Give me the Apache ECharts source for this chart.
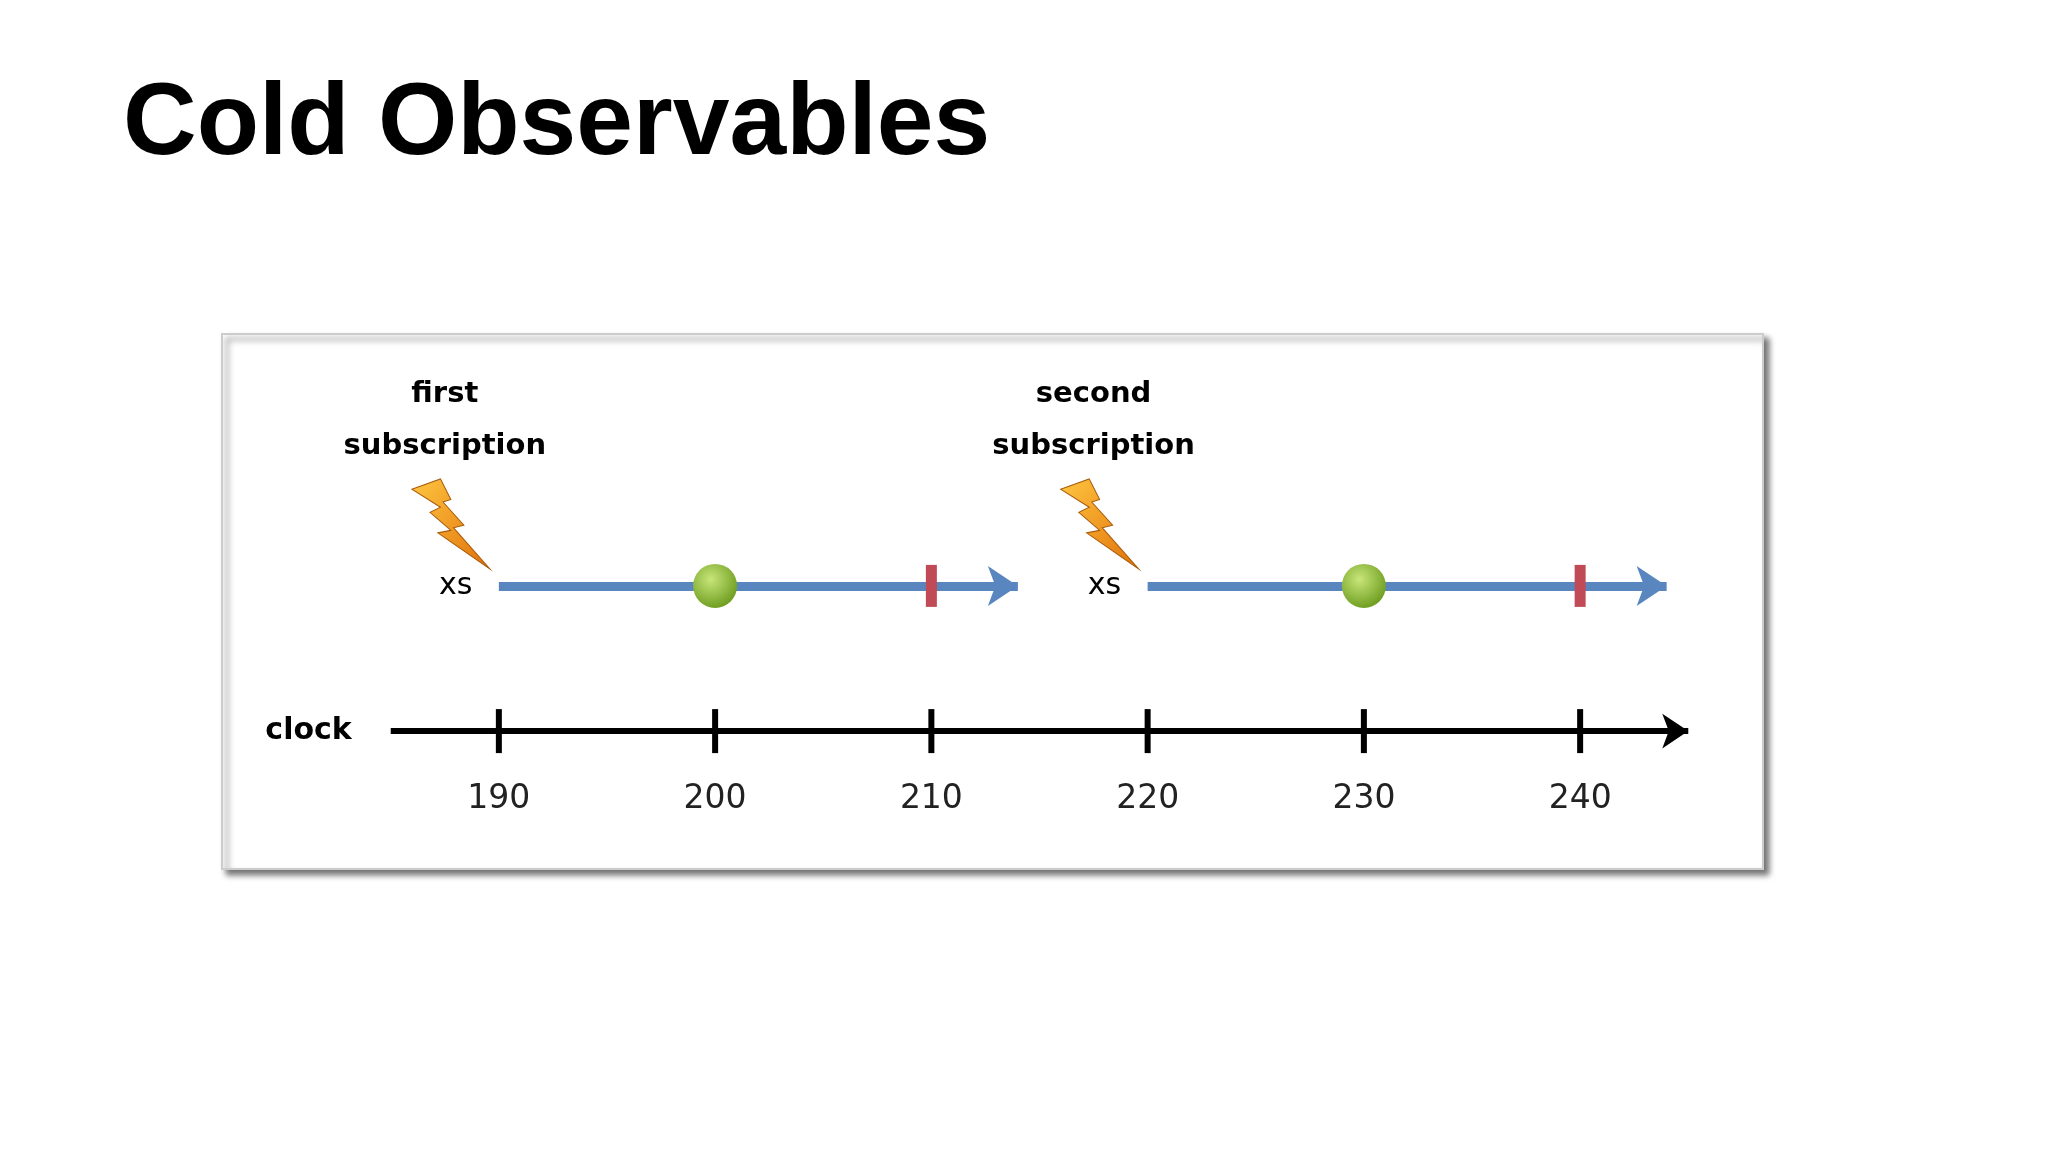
<!DOCTYPE html>
<html><head><meta charset="utf-8">
<script src="https://cdn.jsdelivr.net/npm/echarts@6/dist/echarts.min.js"></script>
<style>html,body{margin:0;background:#fff}#c{width:2048px;height:1152px}</style>
</head><body><div id="c"></div>
<script>
const clockTicks = [190, 200, 210, 220, 230, 240];
const subscriptions = [190, 220];
const subscriptionLabels = ['first\nsubscription', 'second\nsubscription'];
const streamEnds = [214, 244];
const onNextTimes = [200, 230];
const completedTimes = [210, 240];
const clockStart = 185, clockEnd = 245;
const clockY = 1.83, streamY = 6.67, labelY = 12.2;

const chart = echarts.init(document.getElementById('c'));
const bolt = 'path://M0,8 L22,0 L30,16 L24,18 L40,36 L32,38 L60,70 L20,42 L30,40 L14,26 L22,22 Z';
const txt = {fontFamily:'DejaVu Sans',color:'#000',opacity:1};
chart.setOption({
  animation:false,
  title:{text:'Cold Observables',left:118,top:70,textStyle:{fontFamily:'Liberation Sans',fontWeight:'bold',fontSize:102,color:'#000'}},
  graphic:[{type:'rect',shape:{x:222,y:334,width:1541,height:535},style:{fill:'#fff',stroke:'#ccc',lineWidth:2,shadowColor:'rgba(0,0,0,0.55)',shadowBlur:6,shadowOffsetX:5,shadowOffsetY:5},z:-10}],
  grid:{left:282.6,width:1513.8,top:306,height:480},
  xAxis:{type:'value',min:180,max:250,show:false},
  yAxis:{type:'value',min:0,max:16,show:false},
  series:[
    {type:'lines',coordinateSystem:'cartesian2d',symbol:['none','arrow'],symbolSize:[0,26],
     lineStyle:{color:'#000',width:6,opacity:1},data:[{coords:[[clockStart,clockY],[clockEnd,clockY]]}],z:2},
    {type:'lines',coordinateSystem:'cartesian2d',symbol:['none','arrow'],symbolSize:[0,30],
     lineStyle:{color:'#5a86c0',width:9,opacity:1},
     data:subscriptions.map((s,i)=>({coords:[[s,streamY],[streamEnds[i],streamY]]})),z:2},
    {type:'scatter',symbol:'rect',symbolSize:[6,44],itemStyle:{color:'#000',opacity:1},
     data:clockTicks.map(t=>[t,clockY]),
     label:Object.assign({show:true,position:'bottom',distance:30,formatter:p=>String(p.value[0]),fontSize:33},txt,{color:'#222'}),z:3},
    {type:'scatter',symbol:'rect',symbolSize:[11,42],itemStyle:{color:'#c04a55',opacity:1},data:completedTimes.map(t=>[t,streamY]),z:3},
    {type:'scatter',symbol:'circle',symbolSize:44,
     itemStyle:{opacity:1,color:{type:'radial',x:0.4,y:0.35,r:0.7,colorStops:[{offset:0,color:'#c8e67a'},{offset:1,color:'#6a9a1c'}]}},
     data:onNextTimes.map(t=>[t,streamY]),z:4},
    {type:'scatter',symbol:bolt,symbolSize:[78,90],symbolOffset:[-48,-62],
     itemStyle:{opacity:1,color:{type:'linear',x:0,y:0,x2:1,y2:1,colorStops:[{offset:0,color:'#ffc640'},{offset:1,color:'#e0700a'}]},borderColor:'#a85a08',borderWidth:1},
     data:subscriptions.map(t=>[t,streamY]),z:5,
     label:Object.assign({show:true,position:'left',distance:18,formatter:'xs',fontSize:30,offset:[79,62]},txt)},
    {type:'scatter',symbolSize:0,data:subscriptions.map((t,i)=>[t-2.5,labelY]),
     label:Object.assign({show:true,position:'inside',formatter:p=>subscriptionLabels[p.dataIndex],fontWeight:'bold',fontSize:29,lineHeight:52,align:'center'},txt)},
    {type:'scatter',symbolSize:0,data:[[181.2,clockY]],
     label:Object.assign({show:true,position:'inside',formatter:'clock',fontWeight:'bold',fontSize:30},txt)}
  ]
});
</script></body></html>
